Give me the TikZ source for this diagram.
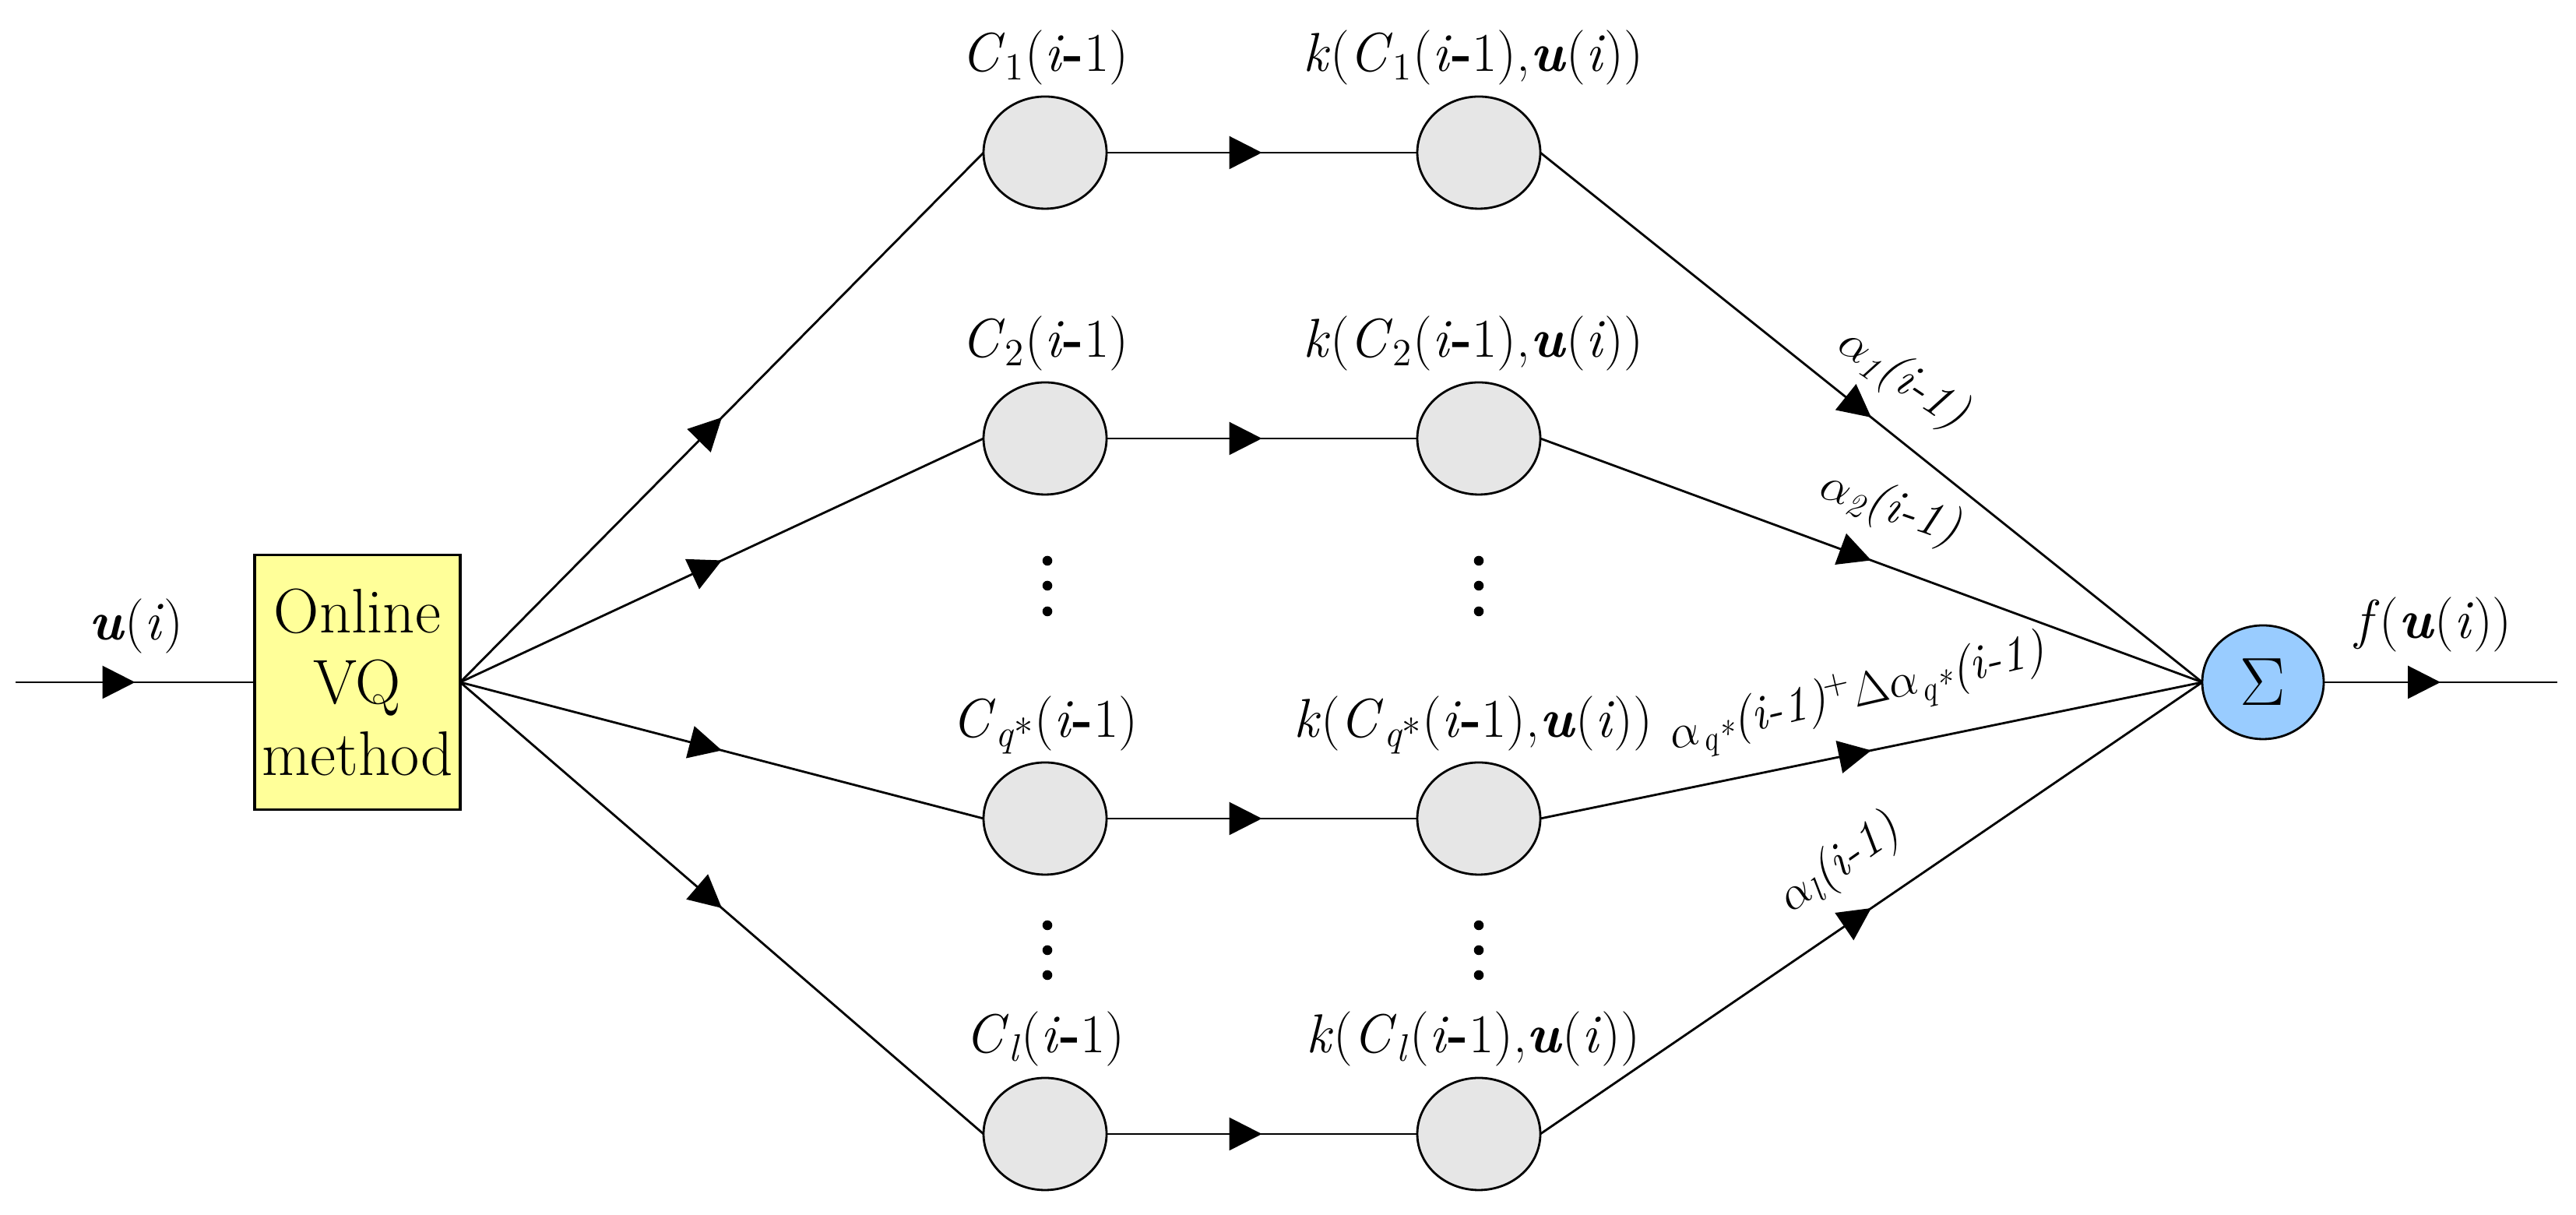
\documentclass[tikz,border=0pt]{standalone}
\usepackage{fontspec}
\usetikzlibrary{shapes.geometric,arrows.meta,decorations.markings}
\definecolor{cellgray}{HTML}{E6E6E6}
\definecolor{sumblue}{HTML}{99CCFF}
\definecolor{boxyellow}{HTML}{FFFF99}
\newcommand{\hyb}{\textbf{-}}
\newcommand{\buvec}{\textbf{\textit{u}}}
\newcommand{\alf}{$\alpha$}
\begin{document}
\begin{tikzpicture}[
  line width=0.8pt,
  every node/.style={inner sep=0pt,outer sep=0pt},
  cell/.style={ellipse,draw,fill=cellgray,minimum width=1.58cm,minimum height=1.44cm},
  sumnode/.style={ellipse,draw,fill=sumblue,minimum width=1.56cm,minimum height=1.46cm,font=\fontsize{24}{28}\selectfont},
  vqbox/.style={draw,fill=boxyellow,line width=1pt,minimum width=2.64cm,minimum height=3.27cm,align=center,font=\fontsize{23}{26}\selectfont},
  lbl/.style={anchor=base,font=\fontsize{20}{24}\selectfont},
  albl/.style={font=\fontsize{18}{22}\selectfont},
  dotn/.style={circle,fill=black,minimum size=0.126cm},
  midarrow/.style={postaction={decorate},decoration={markings,mark=at position 0.5 with {\arrow{Triangle[length=4.2mm,width=4.2mm]}}}}
]
\useasboundingbox (0,0) rectangle (33.08,15.60);

% input / output
\coordinate (in) at (0.20,6.84);
\node[vqbox] (vq) at (4.59,6.84) {Online\\VQ\\method};
\node[sumnode] (sig) at (29.06,6.84) {$\Sigma$};
\coordinate (out) at (32.84,6.84);

% cells
\node[cell] (c1) at (13.42,13.64) {};
\node[cell] (c2) at (13.42,9.97) {};
\node[cell] (cq) at (13.42,5.09) {};
\node[cell] (cl) at (13.42,1.04) {};
\node[cell] (k1) at (18.99,13.64) {};
\node[cell] (k2) at (18.99,9.97) {};
\node[cell] (kq) at (18.99,5.09) {};
\node[cell] (kl) at (18.99,1.04) {};

% dots
\node[dotn] (da1) at (13.45,8.40) {};
\node[dotn] (da2) at (13.45,8.08) {};
\node[dotn] (da3) at (13.45,7.75) {};
\node[dotn] (db1) at (18.99,8.40) {};
\node[dotn] (db2) at (18.99,8.08) {};
\node[dotn] (db3) at (18.99,7.75) {};
\node[dotn] (dc1) at (13.45,3.72) {};
\node[dotn] (dc2) at (13.45,3.40) {};
\node[dotn] (dc3) at (13.45,3.08) {};
\node[dotn] (dd1) at (18.99,3.72) {};
\node[dotn] (dd2) at (18.99,3.40) {};
\node[dotn] (dd3) at (18.99,3.08) {};

% labels above cells
\node[lbl] (lc1) at (13.42,14.68) {\textit{C}\textsubscript{1}(\textit{i}\hyb1)};
\node[lbl] (lc2) at (13.42,11.01) {\textit{C}\textsubscript{2}(\textit{i}\hyb1)};
\node[lbl] (lcq) at (13.42,6.13) {\textit{C}\textsubscript{\textit{q}*}(\textit{i}\hyb1)};
\node[lbl] (lcl) at (13.42,2.08) {\textit{C}\textsubscript{\textit{l}}(\textit{i}\hyb1)};
\node[lbl] (lk1) at (18.92,14.68) {\textit{k}(\textit{C}\textsubscript{1}(\textit{i}\hyb1),\buvec(\textit{i}))};
\node[lbl] (lk2) at (18.92,11.01) {\textit{k}(\textit{C}\textsubscript{2}(\textit{i}\hyb1),\buvec(\textit{i}))};
\node[lbl] (lkq) at (18.92,6.13) {\textit{k}(\textit{C}\textsubscript{\textit{q}*}(\textit{i}\hyb1),\buvec(\textit{i}))};
\node[lbl] (lkl) at (18.92,2.08) {\textit{k}(\textit{C}\textsubscript{\textit{l}}(\textit{i}\hyb1),\buvec(\textit{i}))};

\node[lbl] (lu) at (1.75,7.38) {\buvec(\textit{i})};
\node[lbl] (lf) at (31.25,7.40) {\textit{f}(\buvec(\textit{i}))};

% weight labels
\node[albl,rotate=-34] (a1) at (24.43,10.73) {\alf\textit{\textsubscript{1}(i-1)}};
\node[albl,rotate=-19] (a2) at (24.27,9.07) {\alf\textit{\textsubscript{2}(i-1)}};
\node[albl,rotate=13] (aq) at (23.86,6.66) {\alf\textit{\textsubscript{q*}(i-1)}\textsuperscript{+}$\Delta$\alf\textit{\textsubscript{q*}(i-1)}};
\node[albl,rotate=35] (al) at (23.63,4.50) {\alf\textit{\textsubscript{l}(i-1)}};

% connectors
\draw[midarrow] (in) -- (vq.west);
\draw[midarrow] (sig.east) -- (out);
\foreach \c/\k in {c1/k1,c2/k2,cq/kq,cl/kl}{
  \draw[midarrow] (vq.east) -- (\c.west);
  \draw[midarrow] (\c.east) -- (\k.west);
  \draw[midarrow] (\k.east) -- (sig.west);
}
\end{tikzpicture}
\end{document}
